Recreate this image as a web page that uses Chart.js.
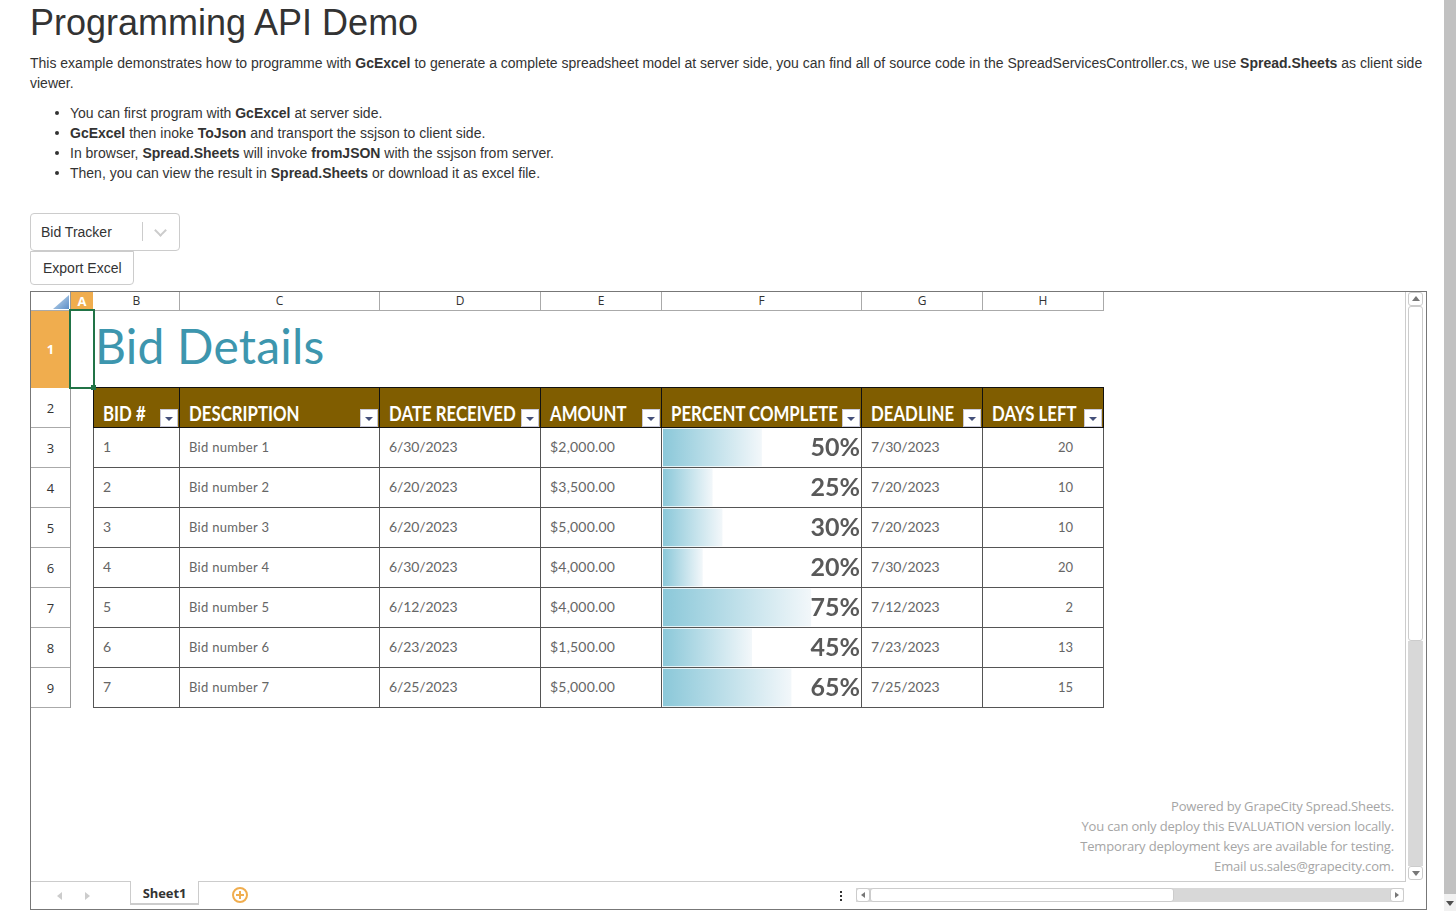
<!DOCTYPE html>
<html><head><meta charset="utf-8">
<script src="https://cdn.jsdelivr.net/npm/chart.js@4"></script>
<style>
html,body{margin:0;padding:0;background:#fff;overflow:hidden;width:1456px;height:911px}
#page{position:relative;width:1456px;height:911px;overflow:hidden;font-family:"Liberation Sans",Arial,sans-serif;color:#333}
.a{position:absolute;white-space:nowrap;box-sizing:border-box}
.t{position:absolute;white-space:nowrap;line-height:20px}
.s{font-family:"Lato",sans-serif}
canvas{position:absolute;left:0;top:0}
</style></head><body><div id="page"></div>
<script>
// ---------- data ----------
const columnLetters=["A","B","C","D","E","F","G","H"];
const rowNumbers=[1,2,3,4,5,6,7,8,9];
const headers=["BID #","DESCRIPTION","DATE RECEIVED","AMOUNT","PERCENT COMPLETE","DEADLINE","DAYS LEFT"];
const bidNumbers=[1,2,3,4,5,6,7];
const descriptions=["Bid number 1","Bid number 2","Bid number 3","Bid number 4","Bid number 5","Bid number 6","Bid number 7"];
const dateReceived=["6/30/2023","6/20/2023","6/20/2023","6/30/2023","6/12/2023","6/23/2023","6/25/2023"];
const amounts=["$2,000.00","$3,500.00","$5,000.00","$4,000.00","$4,000.00","$1,500.00","$5,000.00"];
const percentComplete=[0.5,0.25,0.3,0.2,0.75,0.45,0.65];
const deadlines=["7/30/2023","7/20/2023","7/20/2023","7/30/2023","7/12/2023","7/23/2023","7/25/2023"];
const daysLeft=[20,10,10,20,2,13,15];
const introBullets=[
 "You can first program with <b>GcExcel</b> at server side.",
 "<b>GcExcel</b> then inoke <b>ToJson</b> and transport the ssjson to client side.",
 "In browser, <b>Spread.Sheets</b> will invoke <b>fromJSON</b> with the ssjson from server.",
 "Then, you can view the result in <b>Spread.Sheets</b> or download it as excel file."];
const watermark=["Powered by GrapeCity Spread.Sheets.","You can only deploy this EVALUATION version locally.","Temporary deployment keys are available for testing.","Email us.sales@grapecity.com."];

// ---------- layout ----------
const page=document.getElementById('page');
function box(x,y,w,h,css){const d=document.createElement('div');d.className='a';d.style.cssText+=`left:${x}px;top:${y}px;width:${w}px;height:${h}px;`+(css||'');page.appendChild(d);return d;}
function txt(s,x,cy,css,cls){const d=document.createElement('div');d.className='t '+(cls||'');d.innerHTML=s;d.style.cssText+=`left:${x}px;top:${cy-10}px;`+(css||'');page.appendChild(d);return d;}
function txtR(s,r,cy,css,cls){const d=txt(s,0,cy,css,cls);d.style.left='auto';d.style.right=(1456-r)+'px';return d;}
function txtC(s,c,cy,css,cls){const d=txt(s,c,cy,css+';transform:translateX(-50%);',cls);return d;}

// intro
txt("Programming API Demo",30,23,"font-size:36px;line-height:40px;top:3px;color:#333");
txt("This example demonstrates how to programme with <b>GcExcel</b> to generate a complete spreadsheet model at server side, you can find all of source code in the SpreadServicesController.cs, we use <b>Spread.Sheets</b> as client side",30,63,"font-size:14px");
txt("viewer.",30,83,"font-size:14px");
introBullets.forEach((b,i)=>{
  box(55,111+i*20,4,4,"background:#333;border-radius:50%");
  txt(b,70,113+i*20,"font-size:14px");
});

// controls
box(30,213,150,38,"border:1px solid #ccc;border-radius:4px;background:#fff");
txt("Bid Tracker",41,232,"font-size:14px");
box(142,222,1,19,"background:#ccc");
box(156,226,9,9,"border-right:2px solid #ccc;border-bottom:2px solid #ccc;transform:rotate(45deg);");
box(30,251,104,34,"border:1px solid #ccc;border-radius:0 0 4px 4px;background:#fff");
txt("Export Excel",43,268,"font-size:14px");

// spreadsheet frame
box(30,291,1397,619,"border:1px solid #777;background:#fff");

// column headers
const colEdges=[70,93,179,379,540,661,861,982,1103];
box(53,295,16,14,"background:linear-gradient(135deg,#cfe0f0,#5a8fc8);clip-path:polygon(100% 0,100% 100%,0 100%)");
colEdges.slice(0,-1).forEach((x,i)=>{
  const w=colEdges[i+1]-x;
  if(i==0){box(x,292,w,19,"background:#f0ad4e");}
  else box(x,292,w+1,19,"border-right:1px solid #aaa;border-bottom:1px solid #aaa");
  txtC(columnLetters[i],x+w/2+.5,301,i==0?"font-size:13px;font-weight:700;color:#fff;font-family:'Open Sans'":"font-size:12px;color:#333;font-family:'Open Sans'");
});
box(31,310,39,1,"background:#aaa");
box(70,292,1,416,"background:#999");

// row headers
const rowEdges=[311,388,428,468,508,548,588,628,668,708];
rowNumbers.forEach((n,i)=>{
  const y=rowEdges[i],h=rowEdges[i+1]-y;
  box(31,y,39,h,i==0?"background:#f0ad4e":"border-bottom:1px solid #aaa");
  txtC(String(n),50.5,y+h/2-(i==0?1:0),i==0?"font-size:13px;font-weight:700;color:#fff;font-family:'Open Sans'":"font-size:13px;color:#333;font-family:'Open Sans'");
});

// title
txt("Bid Details",95,345,"font-size:48px;letter-spacing:.2px;line-height:60px;top:316px;color:#3d96ae;","s");

// table header band
const tblEdges=colEdges.slice(1);
box(93,387,1011,41,"background:#805d00;border:1px solid #111");
headers.forEach((h,i)=>{
  const x=tblEdges[i];
  txt(h,x+10,413,"font-size:21px;font-weight:700;color:#fff;transform-origin:left center;transform:scaleX(.8);","s");
  if(i>0)box(x,387,1,41,"background:#111");
  box(tblEdges[i+1]-19,409,18,18,"background:#fff;border:1px solid #c8c8d8");
  box(tblEdges[i+1]-14,417,0,0,"border-left:4px solid transparent;border-right:4px solid transparent;border-top:4px solid #44507a;");
});

// table grid
for(let r=0;r<7;r++){box(93,467+r*40,1011,1,"background:#555");}
tblEdges.forEach(x=>box(x,428,1,280,"background:#555"));

// cells
const grey="color:#666;";
for(let r=0;r<7;r++){
  const cy=446+r*40;
  txt(String(bidNumbers[r]),103,cy+1,grey+"font-size:14px","s");
  txt(descriptions[r],189,cy+1,grey+"font-size:13px;letter-spacing:.3px","s");
  txt(dateReceived[r],389,cy+1,grey+"font-size:14px;letter-spacing:-.1px","s");
  txt(amounts[r],550,cy+1,grey+"font-size:14px;letter-spacing:.2px","s");
  txt(deadlines[r],871,cy+1,grey+"font-size:14px;letter-spacing:-.1px","s");
  txtR(String(daysLeft[r]),1073,cy+1,grey+"font-size:13px","s");
}

// selection
box(69,309,26,80,"border:2px solid #217346");
box(91,385,5,5,"background:#217346");

// percent-complete chart
const wrap=box(663,427,197,281,"");
const cv=document.createElement('canvas');
cv.width=197;cv.height=281;
wrap.appendChild(cv);
const pctLabels={id:'pctLabels',afterDatasetsDraw(c){
  const g=c.ctx,m=c.getDatasetMeta(0);
  g.save();g.font="700 25px Lato";g.fillStyle="#595959";g.textAlign="right";g.textBaseline="middle";
  m.data.forEach((el,i)=>g.fillText(Math.round(percentComplete[i]*100)+"%",c.chartArea.right,el.y));
  g.restore();
}};
new Chart(cv,{
  type:'bar',
  data:{labels:bidNumbers.map(String),datasets:[{data:percentComplete,barThickness:37,borderWidth:0,
    backgroundColor(ctx){
      const c=ctx.chart,a=c.chartArea;
      if(!a)return '#8cc8d8';
      const v=ctx.raw===undefined?1:ctx.raw;
      const g=c.ctx.createLinearGradient(a.left,0,a.left+v*(a.right-a.left),0);
      g.addColorStop(0,'#8bc8d9');g.addColorStop(1,'#f2f7fa');
      return g;
    }}]},
  options:{indexAxis:'y',responsive:false,animation:false,maintainAspectRatio:false,
    layout:{padding:{top:.5,bottom:.5,left:0,right:0}},
    plugins:{legend:{display:false},tooltip:{enabled:false}},
    scales:{x:{display:false,min:0,max:1},y:{display:false}}},
  plugins:[pctLabels]
});

// watermark
watermark.forEach((w,i)=>txtR(w,1394,805.5+i*20,"font-size:13px;letter-spacing:-.15px;color:#a5a5a5;font-family:'Open Sans'"));

// vertical scrollbar
box(1405,292,1,589,"background:#ccc");
box(1408,292,15,14,"background:#fff;border:1px solid #ccc;border-radius:3px");
box(1412,296,0,0,"border-left:4px solid transparent;border-right:4px solid transparent;border-bottom:5px solid #777");
box(1408,306,15,335,"background:#fff;border:1px solid #ccc;border-radius:3px");
box(1408,641,15,225,"background:#d8d8d8");
box(1408,866,15,14,"background:#fff;border:1px solid #ccc;border-radius:3px");
box(1412,871,0,0,"border-left:4px solid transparent;border-right:4px solid transparent;border-top:5px solid #777");

// tab strip
box(31,881,1375,1,"background:#ccc");
box(130,881,69,24,"background:#fff;border-left:1px solid #ccc;border-right:1px solid #ccc;border-bottom:2px solid #ccc");
txtC("Sheet1",164.5,893,"font-size:13px;font-weight:700;letter-spacing:-.1px;color:#333;font-family:'Open Sans'");
box(57,892,0,0,"border-top:4px solid transparent;border-bottom:4px solid transparent;border-right:5px solid #ccc");
box(85,892,0,0,"border-top:4px solid transparent;border-bottom:4px solid transparent;border-left:5px solid #ccc");
box(232,887,16,16,"border:2px solid #f0ad4e;border-radius:50%");
box(236,894,8,2,"background:#f0ad4e");
box(239,891,2,8,"background:#f0ad4e");
[891,895,899].forEach(y=>box(840,y,2,2,"background:#333"));

// horizontal scrollbar
box(856,888,548,14,"background:#d8d8d8");
box(856,888,14,14,"background:#fff;border:1px solid #ccc;border-radius:3px");
box(861,892,0,0,"border-top:3px solid transparent;border-bottom:3px solid transparent;border-right:4px solid #777");
box(870,888,304,14,"background:#fff;border:1px solid #ccc;border-radius:3px");
box(1390,888,14,14,"background:#fff;border:1px solid #ccc;border-radius:3px");
box(1395,892,0,0,"border-top:3px solid transparent;border-bottom:3px solid transparent;border-left:4px solid #777");

// page scrollbar
box(1444,0,12,911,"background:#f1f1f1");
box(1444,0,12,894,"background:#c1c1c1");
box(1446,901,0,0,"border-left:4px solid transparent;border-right:4px solid transparent;border-top:5px solid #505050");
</script></body></html>
